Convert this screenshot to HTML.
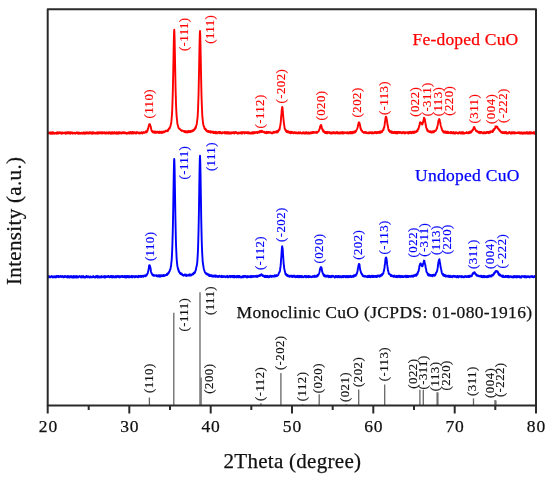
<!DOCTYPE html>
<html><head><meta charset="utf-8"><style>
html,body{margin:0;padding:0;background:#fff;}
svg{display:block;filter:blur(0.4px);}
text{font-family:"Liberation Serif","Times New Roman",serif;}
</style></head><body>
<svg width="550" height="479" viewBox="0 0 550 479">
<rect width="550" height="479" fill="#fff"/>
<g stroke="#666" stroke-width="1.3" fill="none"><line x1="149.40" y1="405.5" x2="149.40" y2="397.5"/><line x1="173.80" y1="405.5" x2="173.80" y2="312.8"/><line x1="200.00" y1="405.5" x2="200.00" y2="292.2"/><line x1="201.10" y1="405.5" x2="201.10" y2="377.6"/><line x1="260.90" y1="405.5" x2="260.90" y2="403.3"/><line x1="280.90" y1="405.5" x2="280.90" y2="373"/><line x1="302.60" y1="405.5" x2="302.60" y2="404.3"/><line x1="319.20" y1="405.5" x2="319.20" y2="394.3"/><line x1="346.20" y1="405.5" x2="346.20" y2="404.3"/><line x1="358.70" y1="405.5" x2="358.70" y2="389.6"/><line x1="384.70" y1="405.5" x2="384.70" y2="384.4"/><line x1="419.90" y1="405.5" x2="419.90" y2="389.8"/><line x1="423.30" y1="405.5" x2="423.30" y2="389.8"/><line x1="437.10" y1="405.5" x2="437.10" y2="392.2"/><line x1="437.90" y1="405.5" x2="437.90" y2="392.4"/><line x1="473.50" y1="405.5" x2="473.50" y2="398.4"/><line x1="495.00" y1="405.5" x2="495.00" y2="400.1"/><line x1="495.90" y1="405.5" x2="495.90" y2="400.6"/></g>
<polyline points="48.00,133.57 48.24,132.43 48.49,132.56 48.73,133.38 48.98,132.99 49.22,133.07 49.46,132.74 49.71,132.52 49.95,133.63 50.20,133.74 50.44,132.45 50.68,133.09 50.93,132.57 51.17,133.78 51.42,133.07 51.66,132.63 51.90,133.42 52.15,132.27 52.39,132.34 52.64,133.74 52.88,133.74 53.12,132.92 53.37,132.28 53.61,133.17 53.86,133.44 54.10,133.11 54.34,133.74 54.59,133.43 54.83,133.08 55.08,132.99 55.32,133.41 55.56,133.41 55.81,133.43 56.05,133.05 56.30,133.32 56.54,133.75 56.78,132.44 57.03,132.89 57.27,132.76 57.52,133.49 57.76,132.20 58.00,132.41 58.25,133.59 58.49,133.25 58.74,132.63 58.98,132.65 59.22,132.28 59.47,133.11 59.71,132.45 59.96,132.71 60.20,133.30 60.44,132.84 60.69,132.37 60.93,132.43 61.18,132.97 61.42,132.84 61.66,133.73 61.91,133.39 62.15,132.51 62.40,133.12 62.64,133.51 62.88,132.90 63.13,132.66 63.37,132.70 63.62,133.18 63.86,133.08 64.10,132.97 64.35,132.54 64.59,132.95 64.84,133.15 65.08,133.00 65.32,133.73 65.57,133.71 65.81,132.66 66.06,132.21 66.30,132.83 66.54,133.15 66.79,133.51 67.03,132.98 67.28,132.21 67.52,132.55 67.76,132.92 68.01,132.40 68.25,133.41 68.50,132.96 68.74,132.26 68.98,132.86 69.23,133.05 69.47,133.35 69.72,132.90 69.96,132.25 70.20,133.77 70.45,132.53 70.69,132.47 70.94,132.36 71.18,132.59 71.42,132.48 71.67,132.95 71.91,132.88 72.16,133.10 72.40,133.69 72.64,132.39 72.89,132.87 73.13,133.46 73.38,132.97 73.62,133.00 73.86,133.21 74.11,133.22 74.35,132.92 74.60,132.78 74.84,132.80 75.08,133.04 75.33,133.73 75.57,133.41 75.82,133.49 76.06,132.84 76.30,132.40 76.55,132.50 76.79,132.50 77.04,132.47 77.28,133.37 77.52,132.43 77.77,132.70 78.01,133.64 78.26,133.75 78.50,133.75 78.74,132.57 78.99,133.38 79.23,133.60 79.48,132.78 79.72,133.22 79.96,133.66 80.21,133.52 80.45,132.93 80.70,133.51 80.94,133.34 81.18,132.64 81.43,133.05 81.67,133.26 81.92,133.02 82.16,133.74 82.40,133.16 82.65,133.10 82.89,133.47 83.14,133.60 83.38,132.33 83.62,132.96 83.87,133.44 84.11,132.80 84.36,132.47 84.60,133.74 84.84,133.74 85.09,133.54 85.33,132.62 85.58,133.52 85.82,132.65 86.06,132.69 86.31,132.90 86.55,133.42 86.80,132.21 87.04,132.50 87.28,132.95 87.53,133.41 87.77,132.73 88.02,133.14 88.26,132.85 88.50,133.26 88.75,132.76 88.99,133.68 89.24,133.29 89.48,132.22 89.72,132.37 89.97,133.28 90.21,132.40 90.46,133.27 90.70,132.27 90.94,132.58 91.19,133.10 91.43,133.37 91.68,133.76 91.92,132.36 92.16,133.71 92.41,132.46 92.65,132.23 92.90,132.86 93.14,133.49 93.38,132.38 93.63,132.21 93.87,132.64 94.12,132.95 94.36,133.16 94.60,133.21 94.85,133.44 95.09,132.69 95.34,133.07 95.58,133.46 95.82,133.60 96.07,132.70 96.31,133.29 96.56,132.97 96.80,133.24 97.04,132.37 97.29,132.32 97.53,133.74 97.78,133.44 98.02,133.24 98.26,132.18 98.51,132.51 98.75,133.22 99.00,133.42 99.24,132.68 99.48,132.42 99.73,132.27 99.97,133.21 100.22,132.35 100.46,132.66 100.70,132.99 100.95,132.18 101.19,133.39 101.44,132.60 101.68,133.62 101.92,133.49 102.17,132.30 102.41,133.42 102.66,132.54 102.90,132.80 103.14,132.41 103.39,133.17 103.63,133.21 103.88,133.29 104.12,132.37 104.36,132.79 104.61,132.23 104.85,132.34 105.10,133.54 105.34,132.87 105.58,133.59 105.83,133.69 106.07,133.64 106.32,132.37 106.56,132.49 106.80,132.43 107.05,133.21 107.29,132.77 107.54,132.50 107.78,133.15 108.02,132.84 108.27,133.39 108.51,133.62 108.76,133.32 109.00,132.33 109.24,132.85 109.49,132.27 109.73,133.02 109.98,133.31 110.22,132.49 110.46,132.42 110.71,133.73 110.95,132.68 111.20,133.60 111.44,133.56 111.68,132.33 111.93,133.68 112.17,133.36 112.42,132.16 112.66,133.07 112.90,133.56 113.15,133.48 113.39,133.36 113.64,132.55 113.88,133.58 114.12,132.29 114.37,133.14 114.61,132.19 114.86,132.29 115.10,133.27 115.34,133.33 115.59,132.98 115.83,133.58 116.08,132.70 116.32,133.67 116.56,133.72 116.81,132.17 117.05,133.26 117.30,132.78 117.54,133.02 117.78,133.23 118.03,133.63 118.27,132.27 118.52,132.18 118.76,132.18 119.00,133.55 119.25,133.39 119.49,132.74 119.74,132.16 119.98,132.86 120.22,132.63 120.47,132.67 120.71,133.31 120.96,132.86 121.20,133.23 121.44,133.33 121.69,133.59 121.93,133.27 122.18,132.15 122.42,133.01 122.66,132.68 122.91,132.69 123.15,132.21 123.40,133.09 123.64,133.23 123.88,133.19 124.13,133.21 124.37,132.36 124.62,132.28 124.86,133.23 125.10,133.18 125.35,132.84 125.59,132.78 125.84,132.76 126.08,133.32 126.32,133.67 126.57,133.32 126.81,133.59 127.06,132.82 127.30,133.59 127.54,133.58 127.79,132.68 128.03,133.23 128.28,132.43 128.52,132.91 128.76,132.31 129.01,133.45 129.25,132.89 129.50,132.42 129.74,133.57 129.98,132.17 130.23,133.41 130.47,132.44 130.72,132.11 130.96,132.37 131.20,133.17 131.45,133.51 131.69,132.85 131.94,132.20 132.18,133.20 132.42,132.24 132.67,133.44 132.91,132.21 133.16,133.61 133.40,133.15 133.64,132.21 133.89,132.37 134.13,132.20 134.38,132.31 134.62,132.45 134.86,132.54 135.11,133.36 135.35,132.95 135.60,133.38 135.84,132.49 136.08,132.56 136.33,133.22 136.57,133.52 136.82,132.08 137.06,132.32 137.30,132.73 137.55,132.74 137.79,132.24 138.04,132.87 138.28,132.96 138.52,133.04 138.77,133.16 139.01,133.53 139.26,132.53 139.50,132.89 139.74,132.64 139.99,133.44 140.23,132.97 140.48,133.30 140.72,133.31 140.96,133.09 141.21,132.17 141.45,132.85 141.70,132.83 141.94,132.47 142.18,133.07 142.43,133.41 142.67,132.56 142.92,132.58 143.16,132.32 143.40,132.64 143.65,132.21 143.89,132.11 144.14,132.87 144.38,132.42 144.62,132.40 144.87,132.76 145.11,132.40 145.36,132.10 145.60,131.47 145.84,131.36 146.09,132.28 146.33,131.54 146.58,132.32 146.82,132.06 147.06,131.07 147.31,130.12 147.55,130.80 147.80,129.26 148.04,128.37 148.28,128.46 148.53,126.92 148.77,125.67 149.02,125.48 149.26,124.18 149.50,124.11 149.59,124.08 149.75,124.18 149.99,124.34 150.24,125.41 150.48,125.97 150.72,126.88 150.97,127.67 151.21,129.06 151.46,130.34 151.70,130.75 151.94,131.23 152.19,130.99 152.43,130.95 152.68,132.28 152.92,131.42 153.16,131.49 153.41,132.18 153.65,131.99 153.90,132.61 154.14,131.76 154.38,132.91 154.63,131.44 154.87,131.75 155.12,132.06 155.36,132.66 155.60,131.64 155.85,131.59 156.09,132.91 156.34,131.90 156.58,131.80 156.82,132.10 157.07,132.04 157.31,132.45 157.56,131.68 157.80,131.61 158.04,132.54 158.29,131.87 158.53,132.45 158.78,132.88 159.02,132.61 159.26,132.92 159.51,131.66 159.75,131.57 160.00,132.90 160.24,132.11 160.48,132.41 160.73,132.85 160.97,132.55 161.22,132.61 161.46,131.78 161.70,132.95 161.95,132.63 162.19,132.21 162.44,132.85 162.68,131.85 162.92,131.85 163.17,131.44 163.41,132.41 163.66,132.25 163.90,131.79 164.14,132.17 164.39,131.62 164.63,132.10 164.88,131.35 165.12,131.12 165.36,131.02 165.61,130.68 165.85,131.28 166.10,131.28 166.34,130.60 166.58,130.63 166.83,130.83 167.07,131.00 167.32,131.02 167.56,131.14 167.80,129.84 168.05,130.75 168.29,129.53 168.54,129.60 168.78,128.65 169.02,128.66 169.27,127.96 169.51,128.89 169.76,127.83 170.00,127.15 170.24,126.92 170.49,125.83 170.73,125.13 170.98,123.69 171.22,123.07 171.46,120.47 171.71,117.97 171.95,114.87 172.20,110.27 172.44,103.76 172.68,96.27 172.93,86.93 173.17,75.01 173.42,62.15 173.66,48.73 173.90,37.40 174.15,30.26 174.23,29.81 174.39,31.59 174.64,40.41 174.88,52.57 175.12,65.88 175.37,78.80 175.61,90.32 175.86,98.51 176.10,106.38 176.34,111.15 176.59,115.87 176.83,118.35 177.08,120.23 177.32,123.04 177.56,124.61 177.81,124.96 178.05,125.98 178.30,126.98 178.54,128.16 178.78,128.07 179.03,128.46 179.27,128.88 179.52,128.49 179.76,129.23 180.00,129.25 180.25,129.22 180.49,129.66 180.74,130.25 180.98,130.01 181.22,130.32 181.47,130.44 181.71,130.59 181.96,131.05 182.20,130.79 182.44,130.86 182.69,130.46 182.93,130.77 183.18,130.74 183.42,130.92 183.66,130.89 183.91,131.28 184.15,131.73 184.40,131.90 184.64,131.22 184.88,130.99 185.13,131.54 185.37,132.19 185.62,131.12 185.86,131.69 186.10,131.74 186.35,132.42 186.59,131.68 186.84,131.31 187.08,131.83 187.32,131.94 187.57,131.45 187.81,132.47 188.06,131.68 188.30,130.96 188.54,131.36 188.79,131.80 189.03,131.32 189.28,131.43 189.52,132.04 189.76,132.01 190.01,130.89 190.25,131.84 190.50,132.11 190.74,130.85 190.98,131.29 191.23,131.47 191.47,131.18 191.72,130.74 191.96,131.57 192.20,130.71 192.45,130.51 192.69,130.24 192.94,130.98 193.18,130.30 193.42,130.75 193.67,130.05 193.91,130.48 194.16,129.28 194.40,128.91 194.64,129.48 194.89,129.34 195.13,127.78 195.38,127.77 195.62,127.06 195.86,127.79 196.11,125.72 196.35,125.36 196.60,124.86 196.84,123.44 197.08,121.35 197.33,119.27 197.57,117.52 197.82,113.20 198.06,109.10 198.30,101.45 198.55,94.10 198.79,83.14 199.04,71.30 199.28,58.04 199.52,45.41 199.77,34.86 200.01,31.02 200.26,35.48 200.50,45.62 200.74,57.89 200.99,71.91 201.23,83.43 201.48,94.46 201.72,101.90 201.96,108.27 202.21,113.77 202.45,117.71 202.70,119.96 202.94,121.85 203.18,124.06 203.43,125.15 203.67,126.36 203.92,126.31 204.16,126.53 204.40,128.18 204.65,128.97 204.89,128.33 205.14,128.53 205.38,128.62 205.62,129.47 205.87,130.15 206.11,129.59 206.36,130.94 206.60,130.20 206.84,131.32 207.09,130.98 207.33,130.96 207.58,131.27 207.82,131.72 208.06,131.72 208.31,130.87 208.55,131.52 208.80,131.41 209.04,132.08 209.28,131.34 209.53,132.02 209.77,131.65 210.02,131.20 210.26,131.11 210.50,132.68 210.75,131.52 210.99,131.46 211.24,132.36 211.48,132.29 211.72,132.01 211.97,131.50 212.21,132.36 212.46,131.62 212.70,131.84 212.94,132.84 213.19,131.64 213.43,133.10 213.68,132.92 213.92,132.11 214.16,133.10 214.41,132.60 214.65,133.02 214.90,132.50 215.14,131.91 215.38,131.82 215.63,133.23 215.87,133.20 216.12,131.97 216.36,133.26 216.60,132.90 216.85,133.16 217.09,133.22 217.34,133.33 217.58,132.36 217.82,132.20 218.07,132.30 218.31,132.06 218.56,132.36 218.80,132.80 219.04,132.43 219.29,131.89 219.53,132.43 219.78,133.07 220.02,133.37 220.26,131.98 220.51,132.53 220.75,132.93 221.00,132.52 221.24,132.60 221.48,132.67 221.73,133.41 221.97,132.95 222.22,132.86 222.46,133.21 222.70,132.12 222.95,132.86 223.19,132.48 223.44,132.40 223.68,132.36 223.92,132.40 224.17,132.35 224.41,133.16 224.66,132.00 224.90,133.32 225.14,132.10 225.39,132.21 225.63,132.21 225.88,133.50 226.12,133.44 226.36,132.29 226.61,132.84 226.85,133.00 227.10,132.02 227.34,133.53 227.58,132.75 227.83,132.89 228.07,133.40 228.32,132.98 228.56,132.48 228.80,132.20 229.05,133.58 229.29,132.78 229.54,133.48 229.78,132.34 230.02,133.49 230.27,133.57 230.51,133.01 230.76,132.46 231.00,133.13 231.24,133.43 231.49,132.36 231.73,132.35 231.98,132.27 232.22,133.15 232.46,132.96 232.71,133.25 232.95,132.75 233.20,133.12 233.44,133.11 233.68,132.40 233.93,132.12 234.17,132.72 234.42,133.49 234.66,132.61 234.90,132.94 235.15,132.08 235.39,132.51 235.64,132.32 235.88,132.54 236.12,132.80 236.37,132.23 236.61,132.33 236.86,133.20 237.10,133.41 237.34,133.07 237.59,132.83 237.83,133.51 238.08,133.12 238.32,132.75 238.56,133.60 238.81,132.37 239.05,132.63 239.30,133.17 239.54,133.20 239.78,133.11 240.03,133.15 240.27,132.48 240.52,132.87 240.76,132.83 241.00,133.44 241.25,132.21 241.49,133.16 241.74,133.15 241.98,133.57 242.22,132.11 242.47,132.91 242.71,132.22 242.96,132.19 243.20,132.13 243.44,132.37 243.69,132.20 243.93,132.20 244.18,132.40 244.42,133.46 244.66,132.84 244.91,132.76 245.15,132.09 245.40,132.43 245.64,132.55 245.88,132.48 246.13,133.10 246.37,132.17 246.62,132.65 246.86,133.03 247.10,132.93 247.35,132.11 247.59,132.83 247.84,133.41 248.08,133.44 248.32,132.58 248.57,132.77 248.81,132.22 249.06,133.38 249.30,133.01 249.54,132.51 249.79,133.59 250.03,133.51 250.28,132.79 250.52,133.24 250.76,133.49 251.01,133.24 251.25,132.65 251.50,132.82 251.74,133.53 251.98,133.54 252.23,132.29 252.47,132.62 252.72,133.37 252.96,132.26 253.20,133.61 253.45,133.05 253.69,132.28 253.94,132.49 254.18,133.17 254.42,132.19 254.67,132.65 254.91,132.22 255.16,132.17 255.40,132.91 255.64,132.50 255.89,132.70 256.13,132.04 256.38,132.26 256.62,132.36 256.86,132.20 257.11,131.88 257.35,133.04 257.60,133.09 257.84,132.18 258.08,132.09 258.33,132.43 258.57,132.40 258.82,132.43 259.06,131.55 259.30,131.56 259.55,131.74 259.79,132.45 260.04,130.97 260.28,131.43 260.52,131.71 260.77,131.43 261.01,131.07 261.26,130.80 261.50,132.00 261.74,131.96 261.99,131.84 262.23,131.08 262.48,131.47 262.72,131.26 262.96,132.07 263.21,132.14 263.45,132.26 263.70,132.38 263.94,132.42 264.18,132.03 264.43,131.85 264.67,132.75 264.92,132.42 265.16,132.96 265.40,132.99 265.65,132.67 265.89,132.55 266.14,132.62 266.38,131.94 266.62,133.25 266.87,132.50 267.11,131.93 267.36,132.34 267.60,132.62 267.84,132.93 268.09,132.88 268.33,132.02 268.58,132.08 268.82,132.44 269.06,132.07 269.31,132.03 269.55,132.15 269.80,132.88 270.04,132.75 270.28,132.21 270.53,132.88 270.77,132.27 271.02,132.69 271.26,132.91 271.50,132.71 271.75,133.24 271.99,132.85 272.24,132.74 272.48,133.36 272.72,133.10 272.97,132.94 273.21,131.96 273.46,132.37 273.70,132.83 273.94,131.67 274.19,132.83 274.43,132.39 274.68,131.99 274.92,132.03 275.16,132.41 275.41,131.81 275.65,132.23 275.90,131.81 276.14,132.11 276.38,131.27 276.63,131.60 276.87,132.51 277.12,132.35 277.36,130.90 277.60,131.95 277.85,132.13 278.09,131.59 278.34,131.01 278.58,130.01 278.82,130.58 279.07,129.67 279.31,129.00 279.56,129.55 279.80,127.88 280.04,126.18 280.29,125.50 280.53,123.76 280.78,121.88 281.02,118.32 281.26,115.32 281.51,113.55 281.75,109.87 282.00,107.90 282.24,106.95 282.48,107.49 282.73,110.57 282.97,113.29 283.22,116.42 283.46,119.07 283.70,121.17 283.95,123.25 284.19,125.12 284.44,126.70 284.68,128.72 284.92,129.07 285.17,129.27 285.41,130.36 285.66,130.41 285.90,130.09 286.14,131.60 286.39,130.63 286.63,132.00 286.88,131.71 287.12,131.01 287.36,132.25 287.61,131.83 287.85,132.09 288.10,131.41 288.34,131.31 288.58,132.50 288.83,132.23 289.07,131.64 289.32,132.24 289.56,132.81 289.80,131.97 290.05,132.68 290.29,132.48 290.54,133.27 290.78,131.72 291.02,132.28 291.27,131.87 291.51,131.82 291.76,132.96 292.00,132.54 292.24,132.72 292.49,132.22 292.73,132.11 292.98,133.10 293.22,133.04 293.46,132.36 293.71,132.84 293.95,133.30 294.20,133.21 294.44,132.63 294.68,132.58 294.93,132.01 295.17,132.70 295.42,132.58 295.66,133.33 295.90,132.91 296.15,133.13 296.39,132.47 296.64,133.16 296.88,133.25 297.12,133.01 297.37,132.85 297.61,133.06 297.86,132.64 298.10,133.32 298.34,132.21 298.59,132.51 298.83,132.77 299.08,133.53 299.32,133.11 299.56,132.53 299.81,132.60 300.05,132.34 300.30,132.21 300.54,133.13 300.78,132.85 301.03,133.11 301.27,133.44 301.52,133.42 301.76,133.24 302.00,133.51 302.25,132.79 302.49,132.53 302.74,132.75 302.98,132.56 303.22,133.29 303.47,133.33 303.71,132.75 303.96,132.24 304.20,132.98 304.44,133.65 304.69,133.62 304.93,133.17 305.18,132.67 305.42,133.52 305.66,133.29 305.91,132.56 306.15,132.08 306.40,133.11 306.64,132.69 306.88,132.82 307.13,133.61 307.37,133.12 307.62,133.42 307.86,133.24 308.10,132.41 308.35,132.55 308.59,133.57 308.84,133.51 309.08,132.47 309.32,133.47 309.57,133.12 309.81,133.19 310.06,133.54 310.30,133.57 310.54,133.39 310.79,132.97 311.03,132.11 311.28,132.57 311.52,133.20 311.76,132.50 312.01,133.14 312.25,132.74 312.50,133.04 312.74,132.03 312.98,132.98 313.23,132.24 313.47,132.49 313.72,132.15 313.96,132.52 314.20,132.08 314.45,132.80 314.69,132.34 314.94,132.41 315.18,132.54 315.42,132.45 315.67,132.46 315.91,132.65 316.16,131.80 316.40,132.17 316.64,132.24 316.89,132.96 317.13,132.14 317.38,132.57 317.62,132.37 317.86,131.85 318.11,131.46 318.35,131.66 318.60,131.28 318.84,130.44 319.08,130.02 319.33,129.52 319.57,129.29 319.82,128.07 320.06,126.80 320.30,126.21 320.55,125.60 320.79,125.36 320.87,125.34 321.04,124.87 321.28,125.49 321.52,126.23 321.77,128.07 322.01,128.45 322.26,128.61 322.50,130.13 322.74,129.50 322.99,131.22 323.23,130.43 323.48,131.81 323.72,131.06 323.96,131.25 324.21,132.23 324.45,131.47 324.70,132.74 324.94,131.72 325.18,132.53 325.43,132.50 325.67,133.06 325.92,132.33 326.16,132.90 326.40,132.30 326.65,132.12 326.89,132.45 327.14,133.43 327.38,131.94 327.62,132.01 327.87,132.47 328.11,132.91 328.36,132.63 328.60,132.13 328.84,132.82 329.09,132.31 329.33,132.61 329.58,132.90 329.82,132.09 330.06,132.94 330.31,132.63 330.55,133.52 330.80,132.86 331.04,133.56 331.28,132.50 331.53,133.63 331.77,133.57 332.02,133.46 332.26,133.42 332.50,132.83 332.75,133.08 332.99,133.22 333.24,132.08 333.48,132.20 333.72,132.61 333.97,132.38 334.21,132.35 334.46,133.27 334.70,132.37 334.94,133.28 335.19,132.77 335.43,133.10 335.68,133.42 335.92,132.43 336.16,132.21 336.41,133.17 336.65,132.27 336.90,133.12 337.14,132.62 337.38,132.08 337.63,132.44 337.87,133.59 338.12,132.98 338.36,133.08 338.60,133.21 338.85,132.37 339.09,132.97 339.34,132.56 339.58,132.66 339.82,132.85 340.07,133.59 340.31,132.60 340.56,132.25 340.80,133.40 341.04,132.65 341.29,132.89 341.53,133.13 341.78,132.53 342.02,132.11 342.26,133.63 342.51,132.23 342.75,133.05 343.00,132.33 343.24,133.38 343.48,132.51 343.73,133.50 343.97,133.12 344.22,132.10 344.46,132.60 344.70,132.40 344.95,132.91 345.19,132.89 345.44,132.85 345.68,132.40 345.92,132.48 346.17,133.32 346.41,132.92 346.66,132.76 346.90,132.71 347.14,132.13 347.39,132.27 347.63,133.37 347.88,133.00 348.12,133.42 348.36,133.55 348.61,133.46 348.85,133.28 349.10,132.34 349.34,132.49 349.58,132.27 349.83,133.08 350.07,133.28 350.32,131.96 350.56,132.18 350.80,131.98 351.05,133.45 351.29,132.82 351.54,132.43 351.78,132.24 352.02,131.94 352.27,132.52 352.51,132.73 352.76,133.31 353.00,132.00 353.24,131.68 353.49,131.76 353.73,132.11 353.98,132.57 354.22,132.67 354.46,131.74 354.71,131.41 354.95,131.27 355.20,132.41 355.44,131.61 355.68,131.55 355.93,131.47 356.17,130.60 356.42,130.03 356.66,129.92 356.90,129.41 357.15,128.75 357.39,128.00 357.64,127.24 357.88,126.63 358.12,124.65 358.37,124.59 358.61,122.80 358.86,122.63 359.02,122.32 359.10,122.35 359.34,122.69 359.59,123.40 359.83,124.74 360.08,125.09 360.32,127.36 360.56,128.72 360.81,128.06 361.05,129.81 361.30,130.45 361.54,130.71 361.78,130.80 362.03,130.47 362.27,131.16 362.52,131.97 362.76,131.77 363.00,132.03 363.25,132.05 363.49,132.27 363.74,132.74 363.98,132.44 364.22,132.50 364.47,132.85 364.71,131.90 364.96,132.67 365.20,133.04 365.44,132.40 365.69,131.98 365.93,132.11 366.18,132.38 366.42,132.22 366.66,132.87 366.91,133.20 367.15,133.03 367.40,132.89 367.64,133.01 367.88,132.72 368.13,133.24 368.37,133.28 368.62,133.09 368.86,133.18 369.10,132.22 369.35,132.65 369.59,133.20 369.84,132.83 370.08,132.12 370.32,132.60 370.57,132.64 370.81,132.90 371.06,133.21 371.30,132.53 371.54,133.40 371.79,132.27 372.03,133.43 372.28,132.33 372.52,132.91 372.76,132.43 373.01,132.57 373.25,133.31 373.50,132.65 373.74,133.39 373.98,133.12 374.23,132.89 374.47,133.04 374.72,132.43 374.96,131.90 375.20,132.90 375.45,132.12 375.69,133.09 375.94,132.31 376.18,132.88 376.42,132.56 376.67,133.27 376.91,132.07 377.16,133.04 377.40,132.62 377.64,132.88 377.89,132.03 378.13,132.35 378.38,132.29 378.62,132.04 378.86,132.81 379.11,133.09 379.35,131.82 379.60,132.60 379.84,131.76 380.08,131.48 380.33,131.95 380.57,132.73 380.82,131.45 381.06,131.72 381.30,132.24 381.55,132.19 381.79,131.58 382.04,132.04 382.28,130.60 382.52,130.68 382.77,130.21 383.01,130.55 383.26,129.22 383.50,129.90 383.74,128.24 383.99,128.07 384.23,127.36 384.48,125.86 384.72,124.21 384.96,121.62 385.21,120.48 385.45,118.66 385.70,117.15 385.94,116.66 386.02,116.62 386.18,116.80 386.43,118.08 386.67,118.93 386.92,120.60 387.16,121.95 387.40,124.26 387.65,125.15 387.89,126.21 388.14,127.57 388.38,128.97 388.62,129.89 388.87,130.71 389.11,129.96 389.36,131.42 389.60,131.00 389.84,131.39 390.09,132.22 390.33,132.10 390.58,131.25 390.82,131.81 391.06,131.28 391.31,131.39 391.55,132.76 391.80,131.89 392.04,132.96 392.28,132.40 392.53,132.41 392.77,131.63 393.02,132.24 393.26,132.92 393.50,132.44 393.75,132.45 393.99,132.99 394.24,132.75 394.48,131.94 394.72,131.79 394.97,132.14 395.21,133.29 395.46,131.96 395.70,132.69 395.94,132.10 396.19,133.16 396.43,133.22 396.68,132.01 396.92,133.02 397.16,133.41 397.41,132.69 397.65,131.91 397.90,132.16 398.14,132.87 398.38,131.92 398.63,132.24 398.87,132.17 399.12,132.49 399.36,132.90 399.60,132.08 399.85,132.78 400.09,132.04 400.34,132.66 400.58,132.09 400.82,132.78 401.07,132.86 401.31,132.60 401.56,133.04 401.80,133.31 402.04,132.61 402.29,132.19 402.53,133.10 402.78,132.16 403.02,132.29 403.26,132.31 403.51,132.88 403.75,131.95 404.00,132.28 404.24,132.62 404.48,133.36 404.73,132.62 404.97,133.51 405.22,132.09 405.46,132.99 405.70,132.94 405.95,132.64 406.19,132.50 406.44,132.58 406.68,132.74 406.92,132.49 407.17,132.15 407.41,132.78 407.66,132.69 407.90,132.19 408.14,133.47 408.39,133.21 408.63,132.94 408.88,133.11 409.12,132.01 409.36,133.20 409.61,133.26 409.85,132.91 410.10,132.59 410.34,132.08 410.58,131.79 410.83,132.00 411.07,132.38 411.32,133.28 411.56,133.22 411.80,132.29 412.05,131.97 412.29,132.83 412.54,131.68 412.78,132.33 413.02,132.26 413.27,132.16 413.51,133.00 413.76,132.81 414.00,131.55 414.24,132.57 414.49,132.82 414.73,132.45 414.98,131.68 415.22,132.35 415.46,132.36 415.71,132.17 415.95,131.74 416.20,131.21 416.44,131.77 416.68,130.69 416.93,130.33 417.17,130.34 417.42,131.24 417.66,130.50 417.90,129.09 418.15,128.68 418.39,129.23 418.64,128.03 418.88,127.35 419.12,125.84 419.37,126.05 419.61,124.65 419.86,123.11 420.10,122.25 420.34,122.51 420.59,123.21 420.83,122.57 421.08,122.85 421.32,122.94 421.56,124.02 421.81,123.36 422.05,124.61 422.30,124.53 422.54,124.06 422.78,122.65 423.03,122.52 423.27,121.29 423.52,120.37 423.76,119.68 424.00,117.63 424.25,118.22 424.49,118.87 424.74,118.73 424.98,120.30 425.22,122.46 425.47,122.69 425.71,125.47 425.96,125.09 426.20,127.64 426.44,128.18 426.69,128.45 426.93,129.93 427.18,129.23 427.42,130.74 427.66,129.90 427.91,131.42 428.15,130.85 428.40,131.54 428.64,131.57 428.88,131.37 429.13,131.66 429.37,131.72 429.62,131.37 429.86,132.17 430.10,132.24 430.35,131.48 430.59,132.14 430.84,131.15 431.08,131.99 431.32,131.93 431.57,132.66 431.81,132.67 432.06,132.54 432.30,131.70 432.54,131.63 432.79,131.15 433.03,131.96 433.28,131.49 433.52,132.03 433.76,132.41 434.01,131.80 434.25,131.28 434.50,131.03 434.74,130.69 434.98,130.76 435.23,131.03 435.47,130.86 435.72,130.71 435.96,130.45 436.20,129.76 436.45,129.47 436.69,128.46 436.94,128.43 437.18,127.58 437.42,126.05 437.67,125.19 437.91,124.20 438.16,122.82 438.40,121.11 438.64,120.22 438.89,119.87 439.13,119.03 439.21,119.00 439.38,119.43 439.62,119.59 439.86,121.52 440.11,122.14 440.35,122.79 440.60,125.15 440.84,126.01 441.08,126.67 441.33,127.23 441.57,128.38 441.82,129.14 442.06,130.07 442.30,130.42 442.55,130.44 442.79,131.19 443.04,130.73 443.28,132.17 443.52,131.14 443.77,131.29 444.01,132.10 444.26,132.66 444.50,132.23 444.74,131.90 444.99,131.65 445.23,131.57 445.48,132.68 445.72,132.93 445.96,132.91 446.21,131.56 446.45,132.15 446.70,133.01 446.94,132.14 447.18,131.73 447.43,132.32 447.67,132.94 447.92,131.80 448.16,132.23 448.40,133.08 448.65,132.16 448.89,132.60 449.14,132.50 449.38,132.85 449.62,132.97 449.87,132.78 450.11,132.62 450.36,132.74 450.60,132.10 450.84,133.38 451.09,133.18 451.33,132.01 451.58,132.55 451.82,132.54 452.06,132.52 452.31,133.15 452.55,132.91 452.80,133.21 453.04,133.31 453.28,131.98 453.53,132.37 453.77,132.16 454.02,133.57 454.26,132.45 454.50,133.09 454.75,132.79 454.99,132.51 455.24,133.54 455.48,133.00 455.72,132.71 455.97,132.20 456.21,132.78 456.46,133.09 456.70,132.64 456.94,132.67 457.19,133.14 457.43,132.73 457.68,133.17 457.92,133.59 458.16,133.11 458.41,133.47 458.65,132.82 458.90,132.81 459.14,132.22 459.38,132.42 459.63,132.41 459.87,132.03 460.12,133.19 460.36,133.01 460.60,133.24 460.85,133.45 461.09,132.78 461.34,132.79 461.58,133.40 461.82,132.13 462.07,132.04 462.31,133.49 462.56,133.59 462.80,133.50 463.04,132.42 463.29,132.22 463.53,133.48 463.78,133.57 464.02,132.72 464.26,133.04 464.51,133.54 464.75,133.55 465.00,133.22 465.24,133.23 465.48,133.07 465.73,132.65 465.97,133.12 466.22,133.14 466.46,133.17 466.70,132.07 466.95,133.10 467.19,132.58 467.44,132.72 467.68,132.90 467.92,132.76 468.17,133.36 468.41,133.07 468.66,132.31 468.90,132.09 469.14,132.92 469.39,132.95 469.63,131.73 469.88,132.97 470.12,131.79 470.36,131.57 470.61,132.64 470.85,131.42 471.10,132.37 471.34,132.37 471.58,131.77 471.83,131.43 472.07,130.74 472.32,130.64 472.56,129.70 472.80,129.48 473.05,129.90 473.29,129.31 473.54,128.00 473.78,128.64 474.02,127.06 474.27,127.69 474.51,127.28 474.76,128.48 475.00,128.73 475.24,129.22 475.49,129.41 475.73,130.14 475.98,130.90 476.22,130.93 476.46,131.36 476.71,131.40 476.95,131.48 477.20,131.02 477.44,131.53 477.68,131.75 477.93,131.47 478.17,132.33 478.42,132.35 478.66,132.70 478.90,131.82 479.15,131.79 479.39,131.78 479.64,132.30 479.88,133.11 480.12,133.21 480.37,132.07 480.61,131.94 480.86,132.53 481.10,131.92 481.34,131.92 481.59,132.21 481.83,132.83 482.08,132.70 482.32,132.88 482.56,132.81 482.81,132.69 483.05,133.43 483.30,133.25 483.54,133.19 483.78,132.55 484.03,132.06 484.27,132.32 484.52,133.22 484.76,132.72 485.00,132.44 485.25,133.23 485.49,133.31 485.74,132.45 485.98,133.05 486.22,132.39 486.47,133.13 486.71,132.03 486.96,132.89 487.20,132.69 487.44,132.48 487.69,131.93 487.93,131.86 488.18,131.96 488.42,132.20 488.66,133.16 488.91,132.94 489.15,132.36 489.40,131.61 489.64,131.99 489.88,132.80 490.13,132.49 490.37,131.47 490.62,132.14 490.86,131.50 491.10,131.44 491.35,131.47 491.59,131.62 491.84,131.44 492.08,131.82 492.32,132.02 492.57,130.51 492.81,131.77 493.06,131.16 493.30,130.35 493.54,129.50 493.79,130.39 494.03,129.98 494.28,128.64 494.52,129.07 494.76,128.53 495.01,128.18 495.25,128.27 495.50,126.46 495.74,126.53 495.98,127.40 496.23,126.48 496.39,126.45 496.47,126.46 496.72,127.20 496.96,127.35 497.20,127.27 497.45,126.80 497.69,128.40 497.94,128.68 498.18,128.97 498.42,129.06 498.67,128.82 498.91,129.76 499.16,129.51 499.40,130.39 499.64,130.84 499.89,130.38 500.13,131.06 500.38,131.42 500.62,131.52 500.86,131.92 501.11,131.92 501.35,132.60 501.60,132.49 501.84,131.68 502.08,132.76 502.33,132.70 502.57,132.83 502.82,132.56 503.06,133.10 503.30,132.64 503.55,132.28 503.79,132.20 504.04,131.93 504.28,133.20 504.52,132.33 504.77,133.07 505.01,132.86 505.26,132.50 505.50,132.10 505.74,132.39 505.99,131.90 506.23,133.46 506.48,132.99 506.72,132.74 506.96,133.47 507.21,133.45 507.45,132.96 507.70,132.66 507.94,133.35 508.18,133.46 508.43,133.07 508.67,132.40 508.92,132.69 509.16,132.01 509.40,132.64 509.65,132.19 509.89,132.70 510.14,132.86 510.38,132.96 510.62,133.52 510.87,133.54 511.11,132.59 511.36,132.27 511.60,133.62 511.84,133.37 512.09,133.14 512.33,133.16 512.58,132.33 512.82,133.27 513.06,133.18 513.31,132.90 513.55,132.16 513.80,133.21 514.04,132.67 514.28,133.61 514.53,133.00 514.77,132.21 515.02,133.35 515.26,133.13 515.50,132.65 515.75,132.80 515.99,132.78 516.24,132.73 516.48,132.63 516.72,133.19 516.97,133.15 517.21,133.08 517.46,132.88 517.70,132.81 517.94,132.32 518.19,133.09 518.43,133.00 518.68,132.39 518.92,132.17 519.16,133.34 519.41,132.56 519.65,133.33 519.90,132.54 520.14,133.67 520.38,132.92 520.63,132.82 520.87,132.61 521.12,132.27 521.36,132.46 521.60,132.83 521.85,132.94 522.09,133.72 522.34,132.85 522.58,132.84 522.82,132.55 523.07,133.48 523.31,132.80 523.56,133.66 523.80,132.58 524.04,132.43 524.29,133.04 524.53,132.65 524.78,132.69 525.02,133.26 525.26,133.61 525.51,132.54 525.75,133.18 526.00,133.49 526.24,133.04 526.48,132.42 526.73,132.22 526.97,132.84 527.22,132.20 527.46,133.48 527.70,132.97 527.95,133.74 528.19,133.38 528.44,132.35 528.68,133.66 528.92,132.71 529.17,132.94 529.41,132.18 529.66,132.17 529.90,133.56 530.14,133.34 530.39,132.17 530.63,133.23 530.88,133.47 531.12,132.30 531.36,132.77 531.61,133.27 531.85,132.87 532.10,133.08 532.34,133.03 532.58,132.88 532.83,133.49 533.07,132.78 533.32,132.24 533.56,132.82 533.80,132.50 534.05,133.31 534.29,133.52 534.54,133.76 534.78,132.20 535.02,133.58 535.27,133.16 535.51,132.72 535.76,132.59 536.00,132.78" fill="none" stroke="#ff0000" stroke-width="1.9" stroke-linejoin="round"/>
<polyline points="48.00,276.05 48.24,276.07 48.49,277.49 48.73,277.45 48.98,276.25 49.22,276.41 49.46,276.51 49.71,277.09 49.95,276.61 50.20,276.61 50.44,276.65 50.68,277.33 50.93,276.89 51.17,276.95 51.42,276.43 51.66,275.99 51.90,276.06 52.15,276.71 52.39,276.87 52.64,277.15 52.88,277.52 53.12,277.54 53.37,276.84 53.61,277.07 53.86,276.97 54.10,276.15 54.34,276.74 54.59,276.68 54.83,277.20 55.08,277.54 55.32,277.06 55.56,277.36 55.81,276.76 56.05,275.98 56.30,276.50 56.54,277.29 56.78,276.15 57.03,276.31 57.27,276.41 57.52,276.13 57.76,276.36 58.00,276.32 58.25,277.01 58.49,276.01 58.74,276.04 58.98,277.32 59.22,276.37 59.47,276.44 59.71,276.84 59.96,276.73 60.20,276.80 60.44,276.10 60.69,276.78 60.93,276.25 61.18,277.01 61.42,276.17 61.66,276.14 61.91,276.84 62.15,276.67 62.40,276.11 62.64,276.42 62.88,276.80 63.13,277.22 63.37,277.06 63.62,276.46 63.86,277.31 64.10,276.13 64.35,277.15 64.59,276.12 64.84,277.08 65.08,276.05 65.32,276.45 65.57,276.77 65.81,276.75 66.06,276.54 66.30,276.64 66.54,277.08 66.79,277.24 67.03,276.76 67.28,276.08 67.52,276.58 67.76,277.46 68.01,276.26 68.25,276.42 68.50,276.12 68.74,277.27 68.98,276.38 69.23,277.48 69.47,276.53 69.72,277.14 69.96,277.21 70.20,276.18 70.45,277.41 70.69,276.74 70.94,276.21 71.18,277.18 71.42,277.24 71.67,276.17 71.91,276.90 72.16,276.43 72.40,277.52 72.64,277.00 72.89,277.30 73.13,276.50 73.38,277.44 73.62,276.05 73.86,277.53 74.11,276.41 74.35,277.54 74.60,277.16 74.84,276.27 75.08,277.32 75.33,277.28 75.57,276.47 75.82,276.96 76.06,277.50 76.30,275.99 76.55,277.33 76.79,277.51 77.04,277.02 77.28,276.59 77.52,276.38 77.77,277.39 78.01,277.03 78.26,277.52 78.50,276.85 78.74,276.35 78.99,276.39 79.23,276.13 79.48,276.36 79.72,276.19 79.96,276.44 80.21,276.81 80.45,277.21 80.70,276.51 80.94,277.06 81.18,277.41 81.43,276.85 81.67,276.17 81.92,277.37 82.16,276.63 82.40,276.94 82.65,276.75 82.89,277.34 83.14,276.03 83.38,277.15 83.62,276.60 83.87,276.90 84.11,277.54 84.36,276.68 84.60,277.34 84.84,277.48 85.09,277.51 85.33,277.31 85.58,277.41 85.82,276.55 86.06,276.75 86.31,275.99 86.55,276.07 86.80,275.98 87.04,277.19 87.28,276.86 87.53,277.17 87.77,276.62 88.02,276.57 88.26,276.29 88.50,276.43 88.75,277.16 88.99,276.89 89.24,276.72 89.48,277.56 89.72,277.51 89.97,276.91 90.21,277.39 90.46,276.41 90.70,277.18 90.94,277.40 91.19,277.27 91.43,277.19 91.68,277.22 91.92,276.73 92.16,276.82 92.41,277.07 92.65,276.54 92.90,277.22 93.14,276.11 93.38,276.02 93.63,276.40 93.87,276.87 94.12,276.74 94.36,276.63 94.60,277.48 94.85,276.89 95.09,276.72 95.34,277.27 95.58,277.41 95.82,276.28 96.07,276.97 96.31,276.73 96.56,276.08 96.80,276.58 97.04,277.10 97.29,275.98 97.53,276.96 97.78,277.53 98.02,276.46 98.26,277.40 98.51,277.07 98.75,276.21 99.00,276.48 99.24,277.53 99.48,276.83 99.73,276.90 99.97,276.78 100.22,277.22 100.46,276.61 100.70,277.44 100.95,277.10 101.19,276.96 101.44,276.06 101.68,277.43 101.92,276.34 102.17,277.24 102.41,276.64 102.66,276.93 102.90,276.81 103.14,276.35 103.39,276.92 103.63,277.36 103.88,277.36 104.12,277.42 104.36,276.19 104.61,276.52 104.85,276.01 105.10,276.44 105.34,277.51 105.58,276.49 105.83,276.30 106.07,276.39 106.32,276.75 106.56,276.97 106.80,276.81 107.05,276.27 107.29,277.12 107.54,276.70 107.78,276.78 108.02,276.02 108.27,276.26 108.51,276.05 108.76,276.21 109.00,277.07 109.24,277.17 109.49,276.76 109.73,277.13 109.98,276.86 110.22,276.45 110.46,276.07 110.71,276.60 110.95,276.23 111.20,277.38 111.44,276.97 111.68,275.94 111.93,277.30 112.17,276.87 112.42,277.43 112.66,277.40 112.90,276.10 113.15,275.95 113.39,276.50 113.64,277.33 113.88,277.06 114.12,277.16 114.37,276.46 114.61,276.44 114.86,276.83 115.10,276.69 115.34,277.35 115.59,276.66 115.83,276.01 116.08,276.32 116.32,277.37 116.56,276.70 116.81,276.38 117.05,277.11 117.30,276.09 117.54,276.79 117.78,276.40 118.03,276.88 118.27,275.93 118.52,276.27 118.76,276.60 119.00,277.29 119.25,276.81 119.49,277.47 119.74,276.56 119.98,276.11 120.22,277.23 120.47,276.70 120.71,276.74 120.96,276.87 121.20,276.38 121.44,276.01 121.69,276.38 121.93,276.75 122.18,275.97 122.42,276.98 122.66,276.31 122.91,276.45 123.15,276.29 123.40,276.14 123.64,277.14 123.88,276.51 124.13,276.86 124.37,276.43 124.62,275.93 124.86,276.48 125.10,277.48 125.35,276.75 125.59,276.35 125.84,276.08 126.08,276.45 126.32,276.18 126.57,277.46 126.81,275.98 127.06,276.32 127.30,276.51 127.54,276.03 127.79,276.07 128.03,277.32 128.28,276.17 128.52,276.25 128.76,277.16 129.01,276.28 129.25,276.53 129.50,277.16 129.74,276.18 129.98,277.24 130.23,276.48 130.47,276.77 130.72,277.05 130.96,276.55 131.20,276.71 131.45,277.12 131.69,275.90 131.94,277.33 132.18,277.44 132.42,276.67 132.67,276.10 132.91,276.38 133.16,276.23 133.40,276.66 133.64,276.35 133.89,276.89 134.13,277.00 134.38,276.61 134.62,277.37 134.86,277.28 135.11,276.20 135.35,277.13 135.60,276.20 135.84,276.14 136.08,276.75 136.33,276.31 136.57,276.12 136.82,276.00 137.06,277.16 137.30,277.11 137.55,276.75 137.79,276.61 138.04,276.88 138.28,277.33 138.52,276.44 138.77,275.78 139.01,276.73 139.26,276.45 139.50,276.69 139.74,276.58 139.99,275.89 140.23,276.78 140.48,276.22 140.72,276.47 140.96,276.37 141.21,275.76 141.45,277.08 141.70,275.87 141.94,276.68 142.18,276.12 142.43,275.86 142.67,276.06 142.92,276.45 143.16,275.71 143.40,276.87 143.65,275.97 143.89,276.32 144.14,276.06 144.38,275.50 144.62,275.53 144.87,275.73 145.11,276.17 145.36,276.21 145.60,275.75 145.84,275.99 146.09,275.77 146.33,274.50 146.58,275.63 146.82,274.21 147.06,274.54 147.31,274.08 147.55,273.56 147.80,273.20 148.04,271.68 148.28,271.08 148.53,269.42 148.77,268.37 149.02,266.16 149.26,265.13 149.50,265.28 149.59,265.24 149.75,265.38 149.99,266.17 150.24,266.95 150.48,267.75 150.72,269.98 150.97,271.51 151.21,272.29 151.46,273.21 151.70,273.12 151.94,274.15 152.19,274.61 152.43,274.24 152.68,275.40 152.92,274.68 153.16,275.12 153.41,275.62 153.65,275.04 153.90,275.90 154.14,275.11 154.38,275.09 154.63,275.82 154.87,275.56 155.12,275.18 155.36,275.54 155.60,275.55 155.85,275.38 156.09,275.29 156.34,275.60 156.58,275.25 156.82,276.36 157.07,275.84 157.31,275.76 157.56,276.25 157.80,276.21 158.04,276.56 158.29,275.30 158.53,276.26 158.78,276.06 159.02,275.38 159.26,276.51 159.51,275.26 159.75,276.58 160.00,276.72 160.24,276.19 160.48,276.16 160.73,275.25 160.97,275.28 161.22,275.45 161.46,275.95 161.70,275.76 161.95,276.22 162.19,275.23 162.44,275.91 162.68,276.04 162.92,275.44 163.17,276.18 163.41,275.87 163.66,274.85 163.90,276.13 164.14,276.00 164.39,275.84 164.63,275.71 164.88,275.37 165.12,275.57 165.36,275.34 165.61,275.41 165.85,275.33 166.10,274.63 166.34,274.96 166.58,274.78 166.83,274.01 167.07,274.99 167.32,274.70 167.56,273.39 167.80,273.86 168.05,273.08 168.29,273.86 168.54,272.95 168.78,272.12 169.02,272.57 169.27,271.47 169.51,271.25 169.76,271.05 170.00,269.45 170.24,269.67 170.49,268.65 170.73,267.34 170.98,266.50 171.22,263.99 171.46,262.21 171.71,259.38 171.95,255.65 172.20,249.85 172.44,243.11 172.68,234.61 172.93,224.20 173.17,210.94 173.42,195.56 173.66,180.68 173.90,167.26 174.15,159.39 174.23,158.88 174.39,160.91 174.64,169.79 174.88,185.66 175.12,200.09 175.37,215.17 175.61,227.37 175.86,238.95 176.10,246.61 176.34,251.96 176.59,257.83 176.83,261.12 177.08,263.32 177.32,265.58 177.56,267.16 177.81,267.55 178.05,269.47 178.30,268.90 178.54,270.11 178.78,271.67 179.03,270.82 179.27,272.32 179.52,272.32 179.76,272.53 180.00,273.50 180.25,273.19 180.49,274.13 180.74,274.11 180.98,273.14 181.22,273.46 181.47,274.09 181.71,273.97 181.96,273.78 182.20,275.07 182.44,274.60 182.69,275.26 182.93,275.37 183.18,275.45 183.42,275.35 183.66,275.67 183.91,275.46 184.15,275.24 184.40,274.90 184.64,274.56 184.88,274.52 185.13,274.84 185.37,275.21 185.62,274.57 185.86,275.79 186.10,275.90 186.35,274.77 186.59,275.09 186.84,275.76 187.08,275.49 187.32,275.62 187.57,275.40 187.81,275.40 188.06,275.43 188.30,274.78 188.54,274.74 188.79,275.12 189.03,275.23 189.28,275.51 189.52,274.70 189.76,274.31 190.01,275.48 190.25,274.68 190.50,274.63 190.74,274.64 190.98,275.58 191.23,274.67 191.47,275.15 191.72,275.08 191.96,274.36 192.20,274.15 192.45,274.06 192.69,273.74 192.94,273.66 193.18,273.86 193.42,274.36 193.67,273.00 193.91,272.68 194.16,272.41 194.40,272.49 194.64,273.06 194.89,272.42 195.13,272.13 195.38,270.78 195.62,270.35 195.86,270.24 196.11,268.21 196.35,267.21 196.60,266.16 196.84,265.40 197.08,263.81 197.33,261.52 197.57,257.33 197.82,253.23 198.06,248.17 198.30,239.62 198.55,230.43 198.79,218.57 199.04,204.16 199.28,187.71 199.52,172.49 199.77,160.14 200.01,155.80 200.26,161.01 200.50,172.11 200.74,188.45 200.99,203.40 201.23,218.92 201.48,230.85 201.72,240.25 201.96,248.05 202.21,253.57 202.45,257.24 202.70,261.61 202.94,263.13 203.18,265.12 203.43,266.44 203.67,268.16 203.92,269.12 204.16,270.11 204.40,270.60 204.65,271.53 204.89,272.15 205.14,272.13 205.38,272.98 205.62,272.87 205.87,273.01 206.11,273.70 206.36,274.16 206.60,273.68 206.84,273.47 207.09,274.66 207.33,274.19 207.58,274.27 207.82,274.04 208.06,274.48 208.31,275.19 208.55,275.45 208.80,274.54 209.04,275.48 209.28,276.02 209.53,274.72 209.77,275.86 210.02,275.74 210.26,275.79 210.50,275.95 210.75,275.25 210.99,275.91 211.24,275.80 211.48,275.87 211.72,275.25 211.97,276.59 212.21,275.73 212.46,276.48 212.70,276.48 212.94,275.78 213.19,276.18 213.43,276.70 213.68,275.89 213.92,275.39 214.16,275.85 214.41,276.11 214.65,275.64 214.90,275.48 215.14,276.72 215.38,276.50 215.63,275.45 215.87,275.53 216.12,276.70 216.36,275.92 216.60,275.66 216.85,276.12 217.09,275.96 217.34,276.26 217.58,276.73 217.82,276.78 218.07,277.03 218.31,276.08 218.56,276.93 218.80,276.17 219.04,276.55 219.29,276.48 219.53,275.64 219.78,276.57 220.02,276.45 220.26,276.61 220.51,276.88 220.75,276.87 221.00,276.38 221.24,275.94 221.48,277.11 221.73,275.74 221.97,276.18 222.22,277.18 222.46,276.14 222.70,276.64 222.95,276.46 223.19,277.13 223.44,276.48 223.68,276.47 223.92,276.06 224.17,276.38 224.41,276.19 224.66,276.15 224.90,276.97 225.14,277.29 225.39,276.57 225.63,277.13 225.88,277.11 226.12,276.83 226.36,276.49 226.61,276.37 226.85,276.32 227.10,275.85 227.34,277.20 227.58,276.47 227.83,277.23 228.07,276.30 228.32,276.68 228.56,277.15 228.80,276.88 229.05,276.33 229.29,276.63 229.54,275.88 229.78,276.82 230.02,276.85 230.27,275.92 230.51,276.43 230.76,277.23 231.00,276.15 231.24,276.82 231.49,275.89 231.73,276.39 231.98,276.12 232.22,275.98 232.46,276.60 232.71,275.87 232.95,277.38 233.20,276.88 233.44,276.08 233.68,277.41 233.93,276.35 234.17,275.83 234.42,276.28 234.66,276.05 234.90,277.31 235.15,276.57 235.39,276.46 235.64,276.74 235.88,276.77 236.12,276.17 236.37,277.18 236.61,277.37 236.86,276.49 237.10,275.90 237.34,276.12 237.59,276.37 237.83,276.97 238.08,276.00 238.32,277.38 238.56,277.05 238.81,276.19 239.05,276.02 239.30,276.81 239.54,276.00 239.78,277.28 240.03,276.50 240.27,277.35 240.52,277.08 240.76,277.15 241.00,277.45 241.25,276.81 241.49,276.66 241.74,277.01 241.98,276.42 242.22,277.37 242.47,276.63 242.71,276.61 242.96,276.81 243.20,276.00 243.44,277.26 243.69,276.78 243.93,276.72 244.18,276.86 244.42,275.90 244.66,276.55 244.91,276.63 245.15,276.76 245.40,276.76 245.64,275.94 245.88,276.18 246.13,276.42 246.37,277.20 246.62,276.51 246.86,277.26 247.10,276.90 247.35,277.42 247.59,276.33 247.84,275.89 248.08,276.44 248.32,276.55 248.57,277.06 248.81,276.75 249.06,276.71 249.30,276.78 249.54,277.02 249.79,277.10 250.03,276.25 250.28,275.93 250.52,276.13 250.76,276.45 251.01,277.40 251.25,276.96 251.50,276.10 251.74,275.88 251.98,276.56 252.23,276.52 252.47,276.33 252.72,277.03 252.96,276.29 253.20,276.84 253.45,276.06 253.69,276.68 253.94,276.35 254.18,276.51 254.42,276.54 254.67,276.66 254.91,275.86 255.16,276.17 255.40,276.70 255.64,276.55 255.89,275.91 256.13,276.14 256.38,276.28 256.62,275.77 256.86,277.10 257.11,276.31 257.35,276.23 257.60,276.47 257.84,275.61 258.08,275.55 258.33,276.41 258.57,275.97 258.82,275.63 259.06,275.63 259.30,276.03 259.55,275.18 259.79,275.73 260.04,275.88 260.28,274.88 260.52,274.75 260.77,275.04 261.01,274.85 261.26,274.89 261.50,274.21 261.74,274.64 261.99,275.45 262.23,274.81 262.48,275.52 262.72,275.94 262.96,275.68 263.21,275.57 263.45,275.49 263.70,275.92 263.94,275.99 264.18,276.47 264.43,277.08 264.67,276.45 264.92,277.02 265.16,275.72 265.40,276.66 265.65,276.28 265.89,276.09 266.14,276.98 266.38,275.94 266.62,276.76 266.87,277.15 267.11,276.33 267.36,276.64 267.60,275.82 267.84,276.57 268.09,277.13 268.33,277.25 268.58,277.23 268.82,276.49 269.06,276.13 269.31,277.18 269.55,276.73 269.80,276.49 270.04,275.81 270.28,275.68 270.53,275.83 270.77,276.20 271.02,276.29 271.26,276.84 271.50,276.20 271.75,276.90 271.99,276.67 272.24,275.81 272.48,276.21 272.72,275.94 272.97,276.34 273.21,276.61 273.46,276.23 273.70,276.09 273.94,276.59 274.19,275.59 274.43,275.34 274.68,276.58 274.92,276.44 275.16,275.49 275.41,275.58 275.65,276.31 275.90,275.67 276.14,276.16 276.38,275.08 276.63,275.43 276.87,275.45 277.12,275.89 277.36,275.37 277.60,275.11 277.85,275.11 278.09,275.20 278.34,274.92 278.58,273.83 278.82,273.10 279.07,272.78 279.31,272.57 279.56,271.53 279.80,271.61 280.04,270.22 280.29,267.80 280.53,266.86 280.78,264.18 281.02,260.03 281.26,257.49 281.51,253.82 281.75,250.02 282.00,246.76 282.24,246.34 282.48,248.08 282.73,249.25 282.97,253.63 283.22,256.89 283.46,260.52 283.70,264.12 283.95,265.33 284.19,268.65 284.44,269.27 284.68,270.42 284.92,272.08 285.17,272.02 285.41,274.03 285.66,274.35 285.90,274.18 286.14,275.13 286.39,274.20 286.63,274.86 286.88,274.60 287.12,275.57 287.36,276.12 287.61,274.85 287.85,276.04 288.10,275.80 288.34,276.35 288.58,275.68 288.83,275.94 289.07,276.43 289.32,276.73 289.56,276.30 289.80,275.63 290.05,276.68 290.29,276.60 290.54,276.00 290.78,276.01 291.02,275.76 291.27,276.04 291.51,275.74 291.76,276.87 292.00,275.67 292.24,277.11 292.49,276.99 292.73,277.03 292.98,275.97 293.22,276.42 293.46,275.76 293.71,275.69 293.95,275.74 294.20,276.29 294.44,276.72 294.68,275.76 294.93,276.13 295.17,276.99 295.42,276.43 295.66,277.29 295.90,277.30 296.15,276.31 296.39,276.19 296.64,275.97 296.88,276.15 297.12,277.14 297.37,276.18 297.61,275.80 297.86,276.29 298.10,276.61 298.34,276.91 298.59,277.28 298.83,276.39 299.08,275.85 299.32,277.21 299.56,276.08 299.81,275.96 300.05,276.84 300.30,276.05 300.54,277.16 300.78,276.93 301.03,276.51 301.27,276.01 301.52,276.56 301.76,277.27 302.00,275.93 302.25,276.51 302.49,276.17 302.74,277.05 302.98,276.89 303.22,277.28 303.47,277.13 303.71,276.73 303.96,276.77 304.20,276.37 304.44,276.09 304.69,276.89 304.93,275.94 305.18,276.38 305.42,276.87 305.66,277.13 305.91,275.89 306.15,276.37 306.40,277.35 306.64,276.32 306.88,276.81 307.13,276.74 307.37,276.19 307.62,277.06 307.86,276.98 308.10,276.54 308.35,275.96 308.59,277.27 308.84,276.07 309.08,276.24 309.32,277.11 309.57,276.33 309.81,276.39 310.06,276.24 310.30,276.51 310.54,276.87 310.79,276.56 311.03,276.98 311.28,276.62 311.52,276.69 311.76,277.16 312.01,276.95 312.25,276.76 312.50,276.67 312.74,276.39 312.98,276.08 313.23,276.85 313.47,276.36 313.72,276.69 313.96,276.85 314.20,276.96 314.45,275.63 314.69,275.64 314.94,275.78 315.18,276.80 315.42,276.79 315.67,276.82 315.91,276.46 316.16,276.20 316.40,276.81 316.64,276.06 316.89,275.54 317.13,275.20 317.38,276.09 317.62,276.22 317.86,274.73 318.11,275.12 318.35,274.88 318.60,274.70 318.84,273.98 319.08,273.32 319.33,272.56 319.57,271.69 319.82,270.23 320.06,268.71 320.30,268.53 320.55,267.59 320.79,267.06 320.87,267.03 321.04,267.16 321.28,267.13 321.52,268.11 321.77,268.78 322.01,271.12 322.26,271.09 322.50,272.77 322.74,273.06 322.99,273.76 323.23,274.19 323.48,274.99 323.72,275.72 323.96,276.07 324.21,274.80 324.45,275.03 324.70,275.84 324.94,276.54 325.18,275.43 325.43,276.04 325.67,276.16 325.92,275.94 326.16,276.76 326.40,276.70 326.65,275.79 326.89,275.95 327.14,275.58 327.38,276.48 327.62,275.65 327.87,275.80 328.11,276.43 328.36,275.83 328.60,277.01 328.84,277.18 329.09,276.00 329.33,277.09 329.58,276.50 329.82,276.16 330.06,276.26 330.31,277.00 330.55,276.10 330.80,277.30 331.04,276.48 331.28,275.95 331.53,276.51 331.77,276.91 332.02,275.80 332.26,276.24 332.50,276.14 332.75,275.98 332.99,275.92 333.24,276.50 333.48,276.10 333.72,276.62 333.97,277.02 334.21,276.99 334.46,277.01 334.70,277.40 334.94,276.45 335.19,276.80 335.43,275.99 335.68,277.36 335.92,276.19 336.16,277.13 336.41,276.93 336.65,276.98 336.90,275.92 337.14,276.42 337.38,276.70 337.63,277.16 337.87,277.38 338.12,276.86 338.36,275.89 338.60,276.74 338.85,276.37 339.09,276.04 339.34,277.38 339.58,276.94 339.82,276.78 340.07,277.09 340.31,276.84 340.56,276.36 340.80,277.23 341.04,276.34 341.29,276.97 341.53,276.40 341.78,277.17 342.02,276.18 342.26,276.77 342.51,276.11 342.75,275.89 343.00,276.51 343.24,277.40 343.48,276.85 343.73,275.87 343.97,276.39 344.22,276.21 344.46,276.66 344.70,275.92 344.95,275.97 345.19,276.44 345.44,276.47 345.68,277.25 345.92,277.39 346.17,277.07 346.41,276.24 346.66,276.04 346.90,276.16 347.14,275.96 347.39,277.33 347.63,277.33 347.88,276.96 348.12,277.33 348.36,276.41 348.61,275.86 348.85,275.90 349.10,277.15 349.34,276.25 349.58,276.23 349.83,276.24 350.07,276.62 350.32,276.89 350.56,275.83 350.80,275.79 351.05,276.07 351.29,276.33 351.54,277.13 351.78,276.71 352.02,276.75 352.27,276.72 352.51,276.73 352.76,275.97 353.00,275.91 353.24,276.68 353.49,275.47 353.73,276.86 353.98,275.27 354.22,275.79 354.46,275.61 354.71,276.10 354.95,275.33 355.20,274.90 355.44,275.81 355.68,275.72 355.93,274.41 356.17,274.95 356.42,274.77 356.66,273.63 356.90,273.47 357.15,272.64 357.39,271.58 357.64,270.79 357.88,268.37 358.12,267.44 358.37,266.00 358.61,265.47 358.86,264.01 359.02,264.31 359.10,264.35 359.34,264.11 359.59,265.04 359.83,267.83 360.08,268.74 360.32,270.38 360.56,270.92 360.81,271.62 361.05,272.54 361.30,273.64 361.54,273.22 361.78,274.21 362.03,273.96 362.27,275.15 362.52,275.02 362.76,276.07 363.00,275.51 363.25,275.46 363.49,276.22 363.74,275.67 363.98,276.53 364.22,276.07 364.47,275.89 364.71,276.14 364.96,276.71 365.20,276.68 365.44,276.42 365.69,276.01 365.93,276.39 366.18,276.78 366.42,276.58 366.66,276.65 366.91,276.94 367.15,276.23 367.40,276.44 367.64,276.68 367.88,277.21 368.13,275.76 368.37,277.16 368.62,277.06 368.86,276.78 369.10,275.99 369.35,275.76 369.59,276.05 369.84,276.94 370.08,275.93 370.32,277.22 370.57,277.10 370.81,277.10 371.06,276.38 371.30,276.33 371.54,276.28 371.79,275.76 372.03,276.07 372.28,276.09 372.52,277.00 372.76,275.82 373.01,275.80 373.25,275.94 373.50,277.13 373.74,276.11 373.98,276.42 374.23,276.38 374.47,276.81 374.72,275.99 374.96,275.93 375.20,275.98 375.45,276.72 375.69,276.01 375.94,277.04 376.18,276.08 376.42,277.10 376.67,277.13 376.91,276.95 377.16,276.06 377.40,275.51 377.64,276.31 377.89,276.00 378.13,276.07 378.38,275.63 378.62,275.40 378.86,275.60 379.11,276.34 379.35,276.72 379.60,275.35 379.84,276.28 380.08,275.45 380.33,275.22 380.57,276.26 380.82,276.13 381.06,275.66 381.30,274.88 381.55,274.73 381.79,274.35 382.04,275.32 382.28,274.53 382.52,273.86 382.77,274.31 383.01,273.54 383.26,273.57 383.50,271.87 383.74,271.66 383.99,270.52 384.23,268.94 384.48,267.92 384.72,265.33 384.96,263.90 385.21,261.86 385.45,259.43 385.70,257.98 385.94,257.46 386.02,257.40 386.18,257.62 386.43,258.36 386.67,259.81 386.92,261.95 387.16,264.66 387.40,266.22 387.65,267.59 387.89,270.36 388.14,270.62 388.38,271.83 388.62,272.84 388.87,273.93 389.11,274.17 389.36,273.83 389.60,273.93 389.84,274.03 390.09,274.61 390.33,274.58 390.58,274.82 390.82,276.00 391.06,275.27 391.31,275.07 391.55,275.34 391.80,276.18 392.04,275.57 392.28,276.12 392.53,276.10 392.77,275.67 393.02,275.80 393.26,276.70 393.50,275.93 393.75,276.89 393.99,276.68 394.24,275.72 394.48,275.60 394.72,276.68 394.97,275.88 395.21,276.83 395.46,276.34 395.70,276.60 395.94,277.03 396.19,276.49 396.43,276.31 396.68,275.84 396.92,277.05 397.16,276.76 397.41,277.23 397.65,276.91 397.90,276.82 398.14,275.94 398.38,275.76 398.63,276.92 398.87,276.50 399.12,276.44 399.36,276.50 399.60,275.75 399.85,275.77 400.09,277.23 400.34,276.64 400.58,276.45 400.82,276.26 401.07,276.45 401.31,275.99 401.56,277.15 401.80,276.57 402.04,275.98 402.29,277.03 402.53,277.03 402.78,276.32 403.02,277.07 403.26,276.43 403.51,277.10 403.75,277.00 404.00,276.76 404.24,276.04 404.48,276.32 404.73,276.32 404.97,276.28 405.22,276.65 405.46,275.72 405.70,276.33 405.95,276.27 406.19,277.16 406.44,276.87 406.68,276.32 406.92,275.72 407.17,276.12 407.41,277.15 407.66,275.94 407.90,276.89 408.14,276.27 408.39,276.90 408.63,277.10 408.88,275.95 409.12,276.40 409.36,276.20 409.61,276.03 409.85,276.19 410.10,276.46 410.34,276.60 410.58,276.25 410.83,276.69 411.07,276.65 411.32,275.75 411.56,276.48 411.80,275.85 412.05,275.89 412.29,276.21 412.54,275.67 412.78,276.36 413.02,276.85 413.27,275.46 413.51,275.58 413.76,275.56 414.00,275.22 414.24,275.98 414.49,275.89 414.73,275.53 414.98,275.04 415.22,275.90 415.46,275.04 415.71,274.62 415.95,275.62 416.20,275.85 416.44,275.44 416.68,274.46 416.93,274.90 417.17,273.42 417.42,274.41 417.66,272.67 417.90,272.98 418.15,271.42 418.39,271.56 418.64,271.01 418.88,269.07 419.12,268.53 419.37,266.29 419.61,265.28 419.86,265.11 420.10,263.93 420.34,263.49 420.59,263.42 420.83,263.44 421.08,264.85 421.32,265.03 421.56,265.70 421.81,266.02 422.05,266.27 422.30,266.40 422.54,266.13 422.78,265.52 423.03,263.74 423.27,263.51 423.52,263.14 423.76,261.77 424.00,260.57 424.25,260.88 424.49,261.03 424.74,262.92 424.98,263.67 425.22,265.05 425.47,265.89 425.71,268.20 425.96,268.42 426.20,269.69 426.44,271.91 426.69,271.94 426.93,272.55 427.18,272.93 427.42,272.96 427.66,274.42 427.91,273.71 428.15,275.26 428.40,274.13 428.64,275.21 428.88,275.71 429.13,274.57 429.37,274.41 429.62,274.99 429.86,274.86 430.10,275.53 430.35,275.82 430.59,275.19 430.84,274.99 431.08,275.87 431.32,275.72 431.57,275.90 431.81,275.91 432.06,274.94 432.30,276.31 432.54,276.27 432.79,275.99 433.03,274.99 433.28,275.30 433.52,274.95 433.76,274.99 434.01,274.60 434.25,275.00 434.50,275.80 434.74,275.54 434.98,274.89 435.23,275.17 435.47,274.64 435.72,274.40 435.96,272.91 436.20,272.49 436.45,272.40 436.69,272.13 436.94,271.31 437.18,270.86 437.42,269.08 437.67,268.23 437.91,266.11 438.16,264.05 438.40,263.10 438.64,261.15 438.89,259.86 439.13,259.81 439.21,259.77 439.38,259.27 439.62,260.82 439.86,262.39 440.11,262.89 440.35,265.15 440.60,267.10 440.84,267.91 441.08,268.92 441.33,269.85 441.57,271.78 441.82,272.75 442.06,273.42 442.30,273.87 442.55,274.43 442.79,273.66 443.04,274.40 443.28,275.57 443.52,275.69 443.77,275.71 444.01,274.59 444.26,275.71 444.50,275.07 444.74,276.09 444.99,276.22 445.23,275.09 445.48,276.54 445.72,275.92 445.96,275.93 446.21,276.28 446.45,275.65 446.70,275.53 446.94,276.57 447.18,276.49 447.43,276.22 447.67,276.26 447.92,276.04 448.16,275.84 448.40,276.55 448.65,275.61 448.89,276.40 449.14,277.11 449.38,276.49 449.62,276.34 449.87,276.91 450.11,275.80 450.36,276.27 450.60,276.40 450.84,276.79 451.09,277.04 451.33,276.83 451.58,276.25 451.82,276.19 452.06,276.20 452.31,277.25 452.55,276.06 452.80,276.20 453.04,276.23 453.28,276.49 453.53,275.97 453.77,275.80 454.02,276.41 454.26,276.66 454.50,276.49 454.75,276.08 454.99,276.28 455.24,276.12 455.48,276.87 455.72,276.41 455.97,277.00 456.21,276.45 456.46,277.36 456.70,276.53 456.94,276.22 457.19,275.93 457.43,276.61 457.68,276.00 457.92,277.07 458.16,277.38 458.41,276.51 458.65,276.85 458.90,276.77 459.14,276.44 459.38,276.19 459.63,276.02 459.87,276.89 460.12,276.47 460.36,276.40 460.60,276.31 460.85,276.47 461.09,276.66 461.34,276.11 461.58,277.37 461.82,276.14 462.07,277.13 462.31,277.11 462.56,276.32 462.80,276.67 463.04,276.85 463.29,277.27 463.53,277.31 463.78,276.96 464.02,277.23 464.26,276.27 464.51,277.05 464.75,276.76 465.00,276.69 465.24,276.23 465.48,276.05 465.73,276.34 465.97,277.00 466.22,277.12 466.46,276.43 466.70,276.73 466.95,276.15 467.19,276.95 467.44,276.18 467.68,276.70 467.92,276.81 468.17,276.95 468.41,276.01 468.66,276.39 468.90,276.30 469.14,275.81 469.39,277.06 469.63,276.19 469.88,276.49 470.12,276.57 470.36,275.57 470.61,276.42 470.85,276.06 471.10,275.90 471.34,276.23 471.58,275.78 471.83,276.06 472.07,275.03 472.32,274.55 472.56,273.63 472.80,273.35 473.05,273.98 473.29,272.59 473.54,273.61 473.78,273.23 474.02,272.42 474.27,272.39 474.51,272.17 474.76,272.52 475.00,273.71 475.24,273.48 475.49,273.72 475.73,274.26 475.98,274.01 476.22,274.35 476.46,275.68 476.71,275.31 476.95,275.15 477.20,275.17 477.44,275.52 477.68,275.13 477.93,275.61 478.17,276.25 478.42,275.61 478.66,276.02 478.90,276.09 479.15,276.13 479.39,275.91 479.64,276.01 479.88,276.43 480.12,275.92 480.37,276.53 480.61,276.03 480.86,275.77 481.10,276.39 481.34,277.01 481.59,275.81 481.83,276.93 482.08,276.94 482.32,277.21 482.56,276.61 482.81,276.65 483.05,275.98 483.30,277.02 483.54,276.69 483.78,276.06 484.03,277.25 484.27,276.63 484.52,277.05 484.76,276.05 485.00,276.81 485.25,277.05 485.49,277.10 485.74,276.94 485.98,276.14 486.22,277.07 486.47,277.18 486.71,276.86 486.96,277.16 487.20,276.05 487.44,275.99 487.69,276.34 487.93,276.64 488.18,277.10 488.42,276.00 488.66,276.73 488.91,276.22 489.15,275.49 489.40,276.66 489.64,275.91 489.88,276.28 490.13,276.08 490.37,276.25 490.62,275.72 490.86,275.95 491.10,276.66 491.35,275.32 491.59,276.16 491.84,275.87 492.08,275.55 492.32,275.22 492.57,274.80 492.81,275.64 493.06,275.01 493.30,274.40 493.54,274.38 493.79,274.46 494.03,273.26 494.28,272.66 494.52,272.81 494.76,272.61 495.01,272.85 495.25,271.96 495.50,271.14 495.74,271.60 495.98,271.20 496.23,270.97 496.39,270.95 496.47,270.96 496.72,271.13 496.96,271.54 497.20,271.31 497.45,272.14 497.69,271.50 497.94,272.01 498.18,273.24 498.42,273.99 498.67,274.40 498.91,273.46 499.16,274.38 499.40,275.14 499.64,275.49 499.89,274.54 500.13,275.65 500.38,274.67 500.62,275.72 500.86,275.42 501.11,275.98 501.35,275.58 501.60,276.49 501.84,276.36 502.08,276.66 502.33,276.81 502.57,276.06 502.82,275.42 503.06,277.03 503.30,275.67 503.55,276.65 503.79,276.88 504.04,277.11 504.28,276.63 504.52,277.07 504.77,276.43 505.01,276.51 505.26,276.99 505.50,275.86 505.74,276.36 505.99,276.09 506.23,276.93 506.48,276.17 506.72,276.23 506.96,276.11 507.21,277.06 507.45,275.85 507.70,276.65 507.94,277.26 508.18,275.92 508.43,276.91 508.67,275.97 508.92,277.08 509.16,277.30 509.40,276.60 509.65,276.55 509.89,276.36 510.14,276.41 510.38,276.86 510.62,276.23 510.87,276.63 511.11,277.23 511.36,276.53 511.60,276.90 511.84,276.60 512.09,277.22 512.33,277.07 512.58,277.05 512.82,276.42 513.06,277.45 513.31,276.82 513.55,276.85 513.80,276.09 514.04,277.30 514.28,276.67 514.53,276.20 514.77,276.85 515.02,275.97 515.26,277.10 515.50,276.71 515.75,277.02 515.99,277.06 516.24,277.40 516.48,276.27 516.72,276.47 516.97,276.18 517.21,276.76 517.46,277.23 517.70,276.46 517.94,276.03 518.19,276.63 518.43,277.10 518.68,276.69 518.92,276.16 519.16,276.22 519.41,276.53 519.65,276.34 519.90,277.48 520.14,277.31 520.38,277.52 520.63,276.81 520.87,276.75 521.12,277.51 521.36,276.23 521.60,276.66 521.85,276.37 522.09,276.00 522.34,276.32 522.58,276.35 522.82,276.52 523.07,276.70 523.31,276.32 523.56,276.29 523.80,277.07 524.04,276.26 524.29,277.31 524.53,276.70 524.78,276.08 525.02,277.20 525.26,276.12 525.51,276.78 525.75,276.38 526.00,277.31 526.24,277.47 526.48,277.15 526.73,276.60 526.97,276.13 527.22,276.65 527.46,276.72 527.70,276.95 527.95,276.75 528.19,276.41 528.44,276.17 528.68,277.00 528.92,276.48 529.17,277.00 529.41,277.15 529.66,277.47 529.90,276.91 530.14,276.59 530.39,276.75 530.63,276.84 530.88,276.33 531.12,276.84 531.36,276.46 531.61,276.67 531.85,276.04 532.10,277.03 532.34,276.86 532.58,276.34 532.83,277.09 533.07,276.29 533.32,277.05 533.56,277.32 533.80,276.69 534.05,276.67 534.29,277.08 534.54,277.13 534.78,275.97 535.02,276.76 535.27,276.43 535.51,276.90 535.76,276.69 536.00,277.11" fill="none" stroke="#0000ff" stroke-width="1.9" stroke-linejoin="round"/>
<g font-size="12.8px" stroke-width="0.15">
<text transform="translate(152.7,118.5) rotate(-90)" fill="#ff0000" stroke="#ff0000" textLength="29.1" lengthAdjust="spacing">(110)</text>
<text transform="translate(188.4,51.1) rotate(-90)" fill="#ff0000" stroke="#ff0000" textLength="33.2" lengthAdjust="spacing">(-111)</text>
<text transform="translate(213.9,43.8) rotate(-90)" fill="#ff0000" stroke="#ff0000" textLength="28.6" lengthAdjust="spacing">(111)</text>
<text transform="translate(263.9,128.5) rotate(-90)" fill="#ff0000" stroke="#ff0000" textLength="33.7" lengthAdjust="spacing">(-112)</text>
<text transform="translate(285.1,103.4) rotate(-90)" fill="#ff0000" stroke="#ff0000" textLength="34.2" lengthAdjust="spacing">(-202)</text>
<text transform="translate(324.7,120.6) rotate(-90)" fill="#ff0000" stroke="#ff0000" textLength="29.7" lengthAdjust="spacing">(020)</text>
<text transform="translate(361.3,117.5) rotate(-90)" fill="#ff0000" stroke="#ff0000" textLength="29.7" lengthAdjust="spacing">(202)</text>
<text transform="translate(388.3,115.1) rotate(-90)" fill="#ff0000" stroke="#ff0000" textLength="33.7" lengthAdjust="spacing">(-113)</text>
<text transform="translate(419.0,116.8) rotate(-90)" fill="#ff0000" stroke="#ff0000" textLength="29.7" lengthAdjust="spacing">(022)</text>
<text transform="translate(430.5,116.3) rotate(-90)" fill="#ff0000" stroke="#ff0000" textLength="33.7" lengthAdjust="spacing">(-311)</text>
<text transform="translate(442.0,116.3) rotate(-90)" fill="#ff0000" stroke="#ff0000" textLength="29.1" lengthAdjust="spacing">(113)</text>
<text transform="translate(453.4,115.8) rotate(-90)" fill="#ff0000" stroke="#ff0000" textLength="29.7" lengthAdjust="spacing">(220)</text>
<text transform="translate(477.9,123.4) rotate(-90)" fill="#ff0000" stroke="#ff0000" textLength="29.1" lengthAdjust="spacing">(311)</text>
<text transform="translate(494.9,123.9) rotate(-90)" fill="#ff0000" stroke="#ff0000" textLength="29.7" lengthAdjust="spacing">(004)</text>
<text transform="translate(506.9,122.9) rotate(-90)" fill="#ff0000" stroke="#ff0000" textLength="34.2" lengthAdjust="spacing">(-222)</text>
<text transform="translate(154.0,261.1) rotate(-90)" fill="#0000ff" stroke="#0000ff" textLength="29.1" lengthAdjust="spacing">(110)</text>
<text transform="translate(188.4,179.4) rotate(-90)" fill="#0000ff" stroke="#0000ff" textLength="33.2" lengthAdjust="spacing">(-111)</text>
<text transform="translate(214.8,171.1) rotate(-90)" fill="#0000ff" stroke="#0000ff" textLength="28.6" lengthAdjust="spacing">(111)</text>
<text transform="translate(264.0,270.1) rotate(-90)" fill="#0000ff" stroke="#0000ff" textLength="33.7" lengthAdjust="spacing">(-112)</text>
<text transform="translate(285.1,241.9) rotate(-90)" fill="#0000ff" stroke="#0000ff" textLength="34.2" lengthAdjust="spacing">(-202)</text>
<text transform="translate(323.2,263.6) rotate(-90)" fill="#0000ff" stroke="#0000ff" textLength="29.7" lengthAdjust="spacing">(020)</text>
<text transform="translate(361.7,259.8) rotate(-90)" fill="#0000ff" stroke="#0000ff" textLength="29.7" lengthAdjust="spacing">(202)</text>
<text transform="translate(388.3,254.4) rotate(-90)" fill="#0000ff" stroke="#0000ff" textLength="33.7" lengthAdjust="spacing">(-113)</text>
<text transform="translate(417.1,257.4) rotate(-90)" fill="#0000ff" stroke="#0000ff" textLength="29.7" lengthAdjust="spacing">(022)</text>
<text transform="translate(428.1,256.8) rotate(-90)" fill="#0000ff" stroke="#0000ff" textLength="33.7" lengthAdjust="spacing">(-311)</text>
<text transform="translate(439.7,254.9) rotate(-90)" fill="#0000ff" stroke="#0000ff" textLength="29.1" lengthAdjust="spacing">(113)</text>
<text transform="translate(450.9,254.3) rotate(-90)" fill="#0000ff" stroke="#0000ff" textLength="29.7" lengthAdjust="spacing">(220)</text>
<text transform="translate(477.1,268.9) rotate(-90)" fill="#0000ff" stroke="#0000ff" textLength="29.1" lengthAdjust="spacing">(311)</text>
<text transform="translate(494.0,268.9) rotate(-90)" fill="#0000ff" stroke="#0000ff" textLength="29.7" lengthAdjust="spacing">(004)</text>
<text transform="translate(505.8,268.4) rotate(-90)" fill="#0000ff" stroke="#0000ff" textLength="34.2" lengthAdjust="spacing">(-222)</text>
<text transform="translate(153.2,392.9) rotate(-90)" fill="#111" stroke="#111" textLength="29.1" lengthAdjust="spacing">(110)</text>
<text transform="translate(187.6,331.4) rotate(-90)" fill="#111" stroke="#111" textLength="33.2" lengthAdjust="spacing">(-111)</text>
<text transform="translate(214.2,315.0) rotate(-90)" fill="#111" stroke="#111" textLength="28.6" lengthAdjust="spacing">(111)</text>
<text transform="translate(213.3,393.7) rotate(-90)" fill="#111" stroke="#111" textLength="29.7" lengthAdjust="spacing">(200)</text>
<text transform="translate(264.1,400.9) rotate(-90)" fill="#111" stroke="#111" textLength="33.7" lengthAdjust="spacing">(-112)</text>
<text transform="translate(284.2,370.1) rotate(-90)" fill="#111" stroke="#111" textLength="34.2" lengthAdjust="spacing">(-202)</text>
<text transform="translate(306.0,401.2) rotate(-90)" fill="#111" stroke="#111" textLength="29.1" lengthAdjust="spacing">(112)</text>
<text transform="translate(322.3,393.2) rotate(-90)" fill="#111" stroke="#111" textLength="29.7" lengthAdjust="spacing">(020)</text>
<text transform="translate(349.1,402.1) rotate(-90)" fill="#111" stroke="#111" textLength="29.7" lengthAdjust="spacing">(021)</text>
<text transform="translate(361.8,387.0) rotate(-90)" fill="#111" stroke="#111" textLength="29.7" lengthAdjust="spacing">(202)</text>
<text transform="translate(387.7,381.2) rotate(-90)" fill="#111" stroke="#111" textLength="33.7" lengthAdjust="spacing">(-113)</text>
<text transform="translate(416.8,388.7) rotate(-90)" fill="#111" stroke="#111" textLength="29.7" lengthAdjust="spacing">(022)</text>
<text transform="translate(427.2,389.5) rotate(-90)" fill="#111" stroke="#111" textLength="33.7" lengthAdjust="spacing">(-311)</text>
<text transform="translate(438.5,391.2) rotate(-90)" fill="#111" stroke="#111" textLength="29.1" lengthAdjust="spacing">(113)</text>
<text transform="translate(449.8,390.4) rotate(-90)" fill="#111" stroke="#111" textLength="29.7" lengthAdjust="spacing">(220)</text>
<text transform="translate(476.2,395.9) rotate(-90)" fill="#111" stroke="#111" textLength="29.1" lengthAdjust="spacing">(311)</text>
<text transform="translate(493.5,397.9) rotate(-90)" fill="#111" stroke="#111" textLength="29.7" lengthAdjust="spacing">(004)</text>
<text transform="translate(504.3,397.1) rotate(-90)" fill="#111" stroke="#111" textLength="34.2" lengthAdjust="spacing">(-222)</text>
</g>
<rect x="47.7" y="9.3" width="488.3" height="396.1" fill="none" stroke="#2a2a2a" stroke-width="2" stroke-linejoin="round"/>
<g stroke="#2a2a2a" stroke-width="2"><line x1="47.7" y1="405" x2="47.7" y2="413.5"/><line x1="129.3" y1="405" x2="129.3" y2="413.5"/><line x1="210.7" y1="405" x2="210.7" y2="413.5"/><line x1="292.0" y1="405" x2="292.0" y2="413.5"/><line x1="373.3" y1="405" x2="373.3" y2="413.5"/><line x1="454.7" y1="405" x2="454.7" y2="413.5"/><line x1="536.0" y1="405" x2="536.0" y2="413.5"/><line x1="88.7" y1="405" x2="88.7" y2="410"/><line x1="170.0" y1="405" x2="170.0" y2="410"/><line x1="251.3" y1="405" x2="251.3" y2="410"/><line x1="332.7" y1="405" x2="332.7" y2="410"/><line x1="414.0" y1="405" x2="414.0" y2="410"/><line x1="495.3" y1="405" x2="495.3" y2="410"/></g>
<g font-size="17.5px" fill="#111" stroke="#111" stroke-width="0.25"><text x="48.0" y="432.1" text-anchor="middle" textLength="18.3" lengthAdjust="spacing">20</text><text x="129.3" y="432.1" text-anchor="middle" textLength="18.3" lengthAdjust="spacing">30</text><text x="210.7" y="432.1" text-anchor="middle" textLength="18.3" lengthAdjust="spacing">40</text><text x="292.0" y="432.1" text-anchor="middle" textLength="18.3" lengthAdjust="spacing">50</text><text x="373.3" y="432.1" text-anchor="middle" textLength="18.3" lengthAdjust="spacing">60</text><text x="454.7" y="432.1" text-anchor="middle" textLength="18.3" lengthAdjust="spacing">70</text><text x="536.0" y="432.1" text-anchor="middle" textLength="18.3" lengthAdjust="spacing">80</text></g>
<text x="412.6" y="45.1" font-size="17.5px" fill="#ff0000" stroke="#ff0000" stroke-width="0.25" textLength="105.6" lengthAdjust="spacing">Fe-doped CuO</text>
<text x="415.0" y="180.9" font-size="17.5px" fill="#0000ff" stroke="#0000ff" stroke-width="0.25" textLength="104.4" lengthAdjust="spacing">Undoped CuO</text>
<text x="236.6" y="318.2" font-size="17.5px" fill="#111" stroke="#111" stroke-width="0.25" textLength="295.5" lengthAdjust="spacing">Monoclinic CuO (JCPDS: 01-080-1916)</text>
<text x="223.5" y="468" font-size="21px" fill="#111" stroke="#111" stroke-width="0.25" textLength="137.5" lengthAdjust="spacing">2Theta (degree)</text>
<text transform="translate(20.6,285) rotate(-90)" font-size="21px" fill="#111" stroke="#111" stroke-width="0.25" textLength="128" lengthAdjust="spacing">Intensity (a.u.)</text>
</svg>
</body></html>
